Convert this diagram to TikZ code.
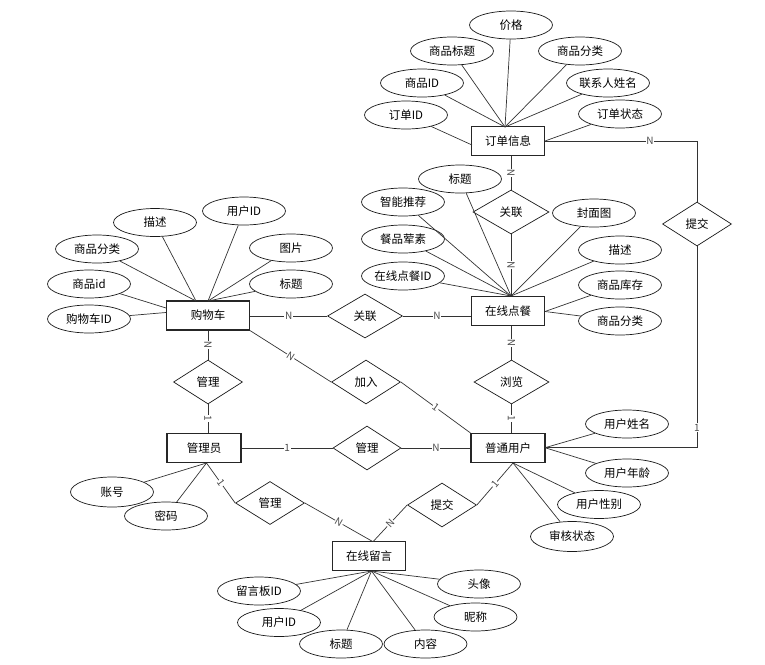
\documentclass[tikz,border=0pt]{standalone}
\usepackage{fontspec}
\setmainfont{Noto Sans CJK SC}
\usetikzlibrary{shapes.geometric}
\tikzset{
  txt/.style={font=\fontsize{11.5}{13}\selectfont},
  ent/.style={draw=black!85, line width=1.2pt, minimum width=73pt, minimum height=29pt, inner sep=0pt, txt},
  attr/.style={ellipse, draw=black!90, line width=0.7pt, minimum width=83pt, minimum height=28pt, inner sep=0pt, txt},
  rel/.style={diamond, draw=black!90, line width=0.7pt, minimum width=69pt, minimum height=44pt, inner sep=0pt, txt},
  lnk/.style={draw=black!80, line width=0.7pt},
  card/.style={fill=white, inner sep=0.6pt, font=\fontsize{10}{10}\selectfont, text=black!70}
}
\begin{document}
\begin{tikzpicture}[x=1pt,y=-1pt]
\useasboundingbox (0,0) rectangle (765,664);
% entities
\node[ent] (ord) at (508,141) {订单信息};
\node[ent] (dian) at (508,311) {在线点餐};
\node[ent, minimum width=83pt] (cart) at (208,315.5) {购物车};
\node[ent, minimum width=74pt] (admin) at (204,448) {管理员};
\node[ent, minimum width=74pt] (user) at (508,448) {普通用户};
\node[ent] (msg) at (369,556) {在线留言};
% relationships
\node[rel, minimum width=76pt] (rA) at (511,212) {关联};
\node[rel] (rB) at (208,382) {管理};
\node[rel] (rC) at (366,382) {加入};
\node[rel, minimum width=75pt] (rD) at (511.5,382) {浏览};
\node[rel, minimum width=68pt] (rE) at (367,448) {管理};
\node[rel, minimum width=75pt] (rF) at (365,316) {关联};
\node[rel] (rG) at (697,224) {提交};
\node[rel, minimum height=43pt] (rH) at (270,503) {管理};
\node[rel] (rI) at (442,505) {提交};
% convergence points
\coordinate (ordT) at (505,127);
\coordinate (ordW) at (472,145);
\coordinate (ordE) at (545,141);
\coordinate (dianT) at (511,296);
\coordinate (dianE) at (545,311.5);
\coordinate (cartA) at (196,301);
\coordinate (cartB) at (208,301);
\coordinate (cartW1) at (166,308);
\coordinate (cartW2) at (166,312.5);
\coordinate (admB) at (206.5,463);
\coordinate (userB) at (513,463);
\coordinate (userE) at (545,447.7);
\coordinate (msgT) at (373,541.7);
\coordinate (msgB) at (371.5,571);
% attributes of 订单信息
\node[attr] (o1) at (511,25) {价格};
\node[attr] (o2) at (452,51) {商品标题};
\node[attr] (o3) at (580,51) {商品分类};
\node[attr] (o4) at (422,83) {商品ID};
\node[attr] (o5) at (608,83) {联系人姓名};
\node[attr] (o6) at (406,115) {订单ID};
\node[attr] (o7) at (620,114) {订单状态};
\foreach \a in {o1,o2,o3,o4,o5} \draw[lnk] (\a) -- (ordT);
\draw[lnk] (o6) -- (ordW);
\draw[lnk] (o7) -- (ordE);
% attributes of 在线点餐
\node[attr] (d1) at (460,179) {标题};
\node[attr] (d2) at (403,202) {智能推荐};
\node[attr] (d3) at (403,239) {餐品荤素};
\node[attr] (d4) at (403,276) {在线点餐ID};
\node[attr] (d5) at (594,213) {封面图};
\node[attr] (d6) at (620,250) {描述};
\node[attr] (d7) at (620,285) {商品库存};
\node[attr] (d8) at (620,321) {商品分类};
\foreach \a in {d1,d2,d3,d4,d5,d6} \draw[lnk] (\a) -- (dianT);
\draw[lnk] (d7) -- (dianE);
\draw[lnk] (d8) -- (dianE);
% attributes of 购物车
\node[attr] (c1) at (155,222.5) {描述};
\node[attr] (c2) at (244,211) {用户ID};
\node[attr] (c3) at (97,249) {商品分类};
\node[attr] (c4) at (291,248) {图片};
\node[attr] (c5) at (89,284) {商品id};
\node[attr] (c6) at (291,284) {标题};
\node[attr] (c7) at (89,319) {购物车ID};
\draw[lnk] (c1) -- (cartA);
\draw[lnk] (c3) -- (cartA);
\draw[lnk] (c2) -- (cartB);
\draw[lnk] (c4) -- (cartB);
\draw[lnk] (c6) -- (cartB);
\draw[lnk] (c5) -- (cartW1);
\draw[lnk] (c7) -- (cartW2);
% attributes of 管理员
\node[attr, minimum height=30pt] (a1) at (112,492) {账号};
\node[attr] (a2) at (166,516) {密码};
\draw[lnk] (a1) -- (admB);
\draw[lnk] (a2) -- (admB);
% attributes of 普通用户
\node[attr] (u1) at (627,424) {用户姓名};
\node[attr] (u2) at (627,473) {用户年龄};
\node[attr] (u3) at (599,504.5) {用户性别};
\node[attr, minimum height=30pt] (u4) at (572,536.5) {审核状态};
\draw[lnk] (u1) -- (userE);
\draw[lnk] (u2) -- (userE);
\draw[lnk] (u3) -- (userB);
\draw[lnk] (u4) -- (userB);
% attributes of 在线留言
\node[attr] (m1) at (259,591) {留言板ID};
\node[attr] (m2) at (479,584) {头像};
\node[attr] (m3) at (279,622.5) {用户ID};
\node[attr] (m4) at (475.5,617) {昵称};
\node[attr] (m5) at (341,644) {标题};
\node[attr] (m6) at (425.5,644) {内容};
\foreach \a in {m1,m2,m3,m4,m5,m6} \draw[lnk] (\a) -- (msgB);
% relationship connectors
\draw[lnk] (rA.north) -- node[card, sloped]{N} (rA.north |- ord.south);
\draw[lnk] (rA.south) -- node[card, sloped]{N} (rA.south |- dian.north);
\draw[lnk] (cart.east |- rF.west) -- node[card]{N} (rF.west);
\draw[lnk] (rF.east) -- node[card]{N} (rF.east -| dian.west);
\draw[lnk] (rB.north) -- node[card, sloped]{N} (rB.north |- cart.south);
\draw[lnk] (rB.south) -- node[card, sloped]{1} (rB.south |- admin.north);
\draw[lnk] (cart.south east) -- node[card, sloped]{N} (rC.west);
\draw[lnk] (rC.east) -- node[card, sloped]{1} (user.north west);
\draw[lnk] (rD.north) -- node[card, sloped]{N} (rD.north |- dian.south);
\draw[lnk] (rD.south) -- node[card, sloped]{1} (rD.south |- user.north);
\draw[lnk] (admin.east) -- node[card]{1} (rE.west);
\draw[lnk] (rE.east) -- node[card]{N} (user.west);
\draw[lnk] (admB) -- node[card, sloped]{1} (rH.west);
\draw[lnk] (rH.east) -- node[card, sloped]{N} (msgT);
\draw[lnk] (rI.west) -- node[card, sloped]{N} (msgT);
\draw[lnk] (rI.east) -- node[card, sloped]{1} (userB);
\draw[lnk] (ord.east) -- node[card, pos=0.69]{N} (ord.east -| rG.north) -- (rG.north);
\draw[lnk] (rG.south) -- node[card, pos=0.9]{1} (rG.south |- userE) -- (userE);
\end{tikzpicture}
\end{document}
